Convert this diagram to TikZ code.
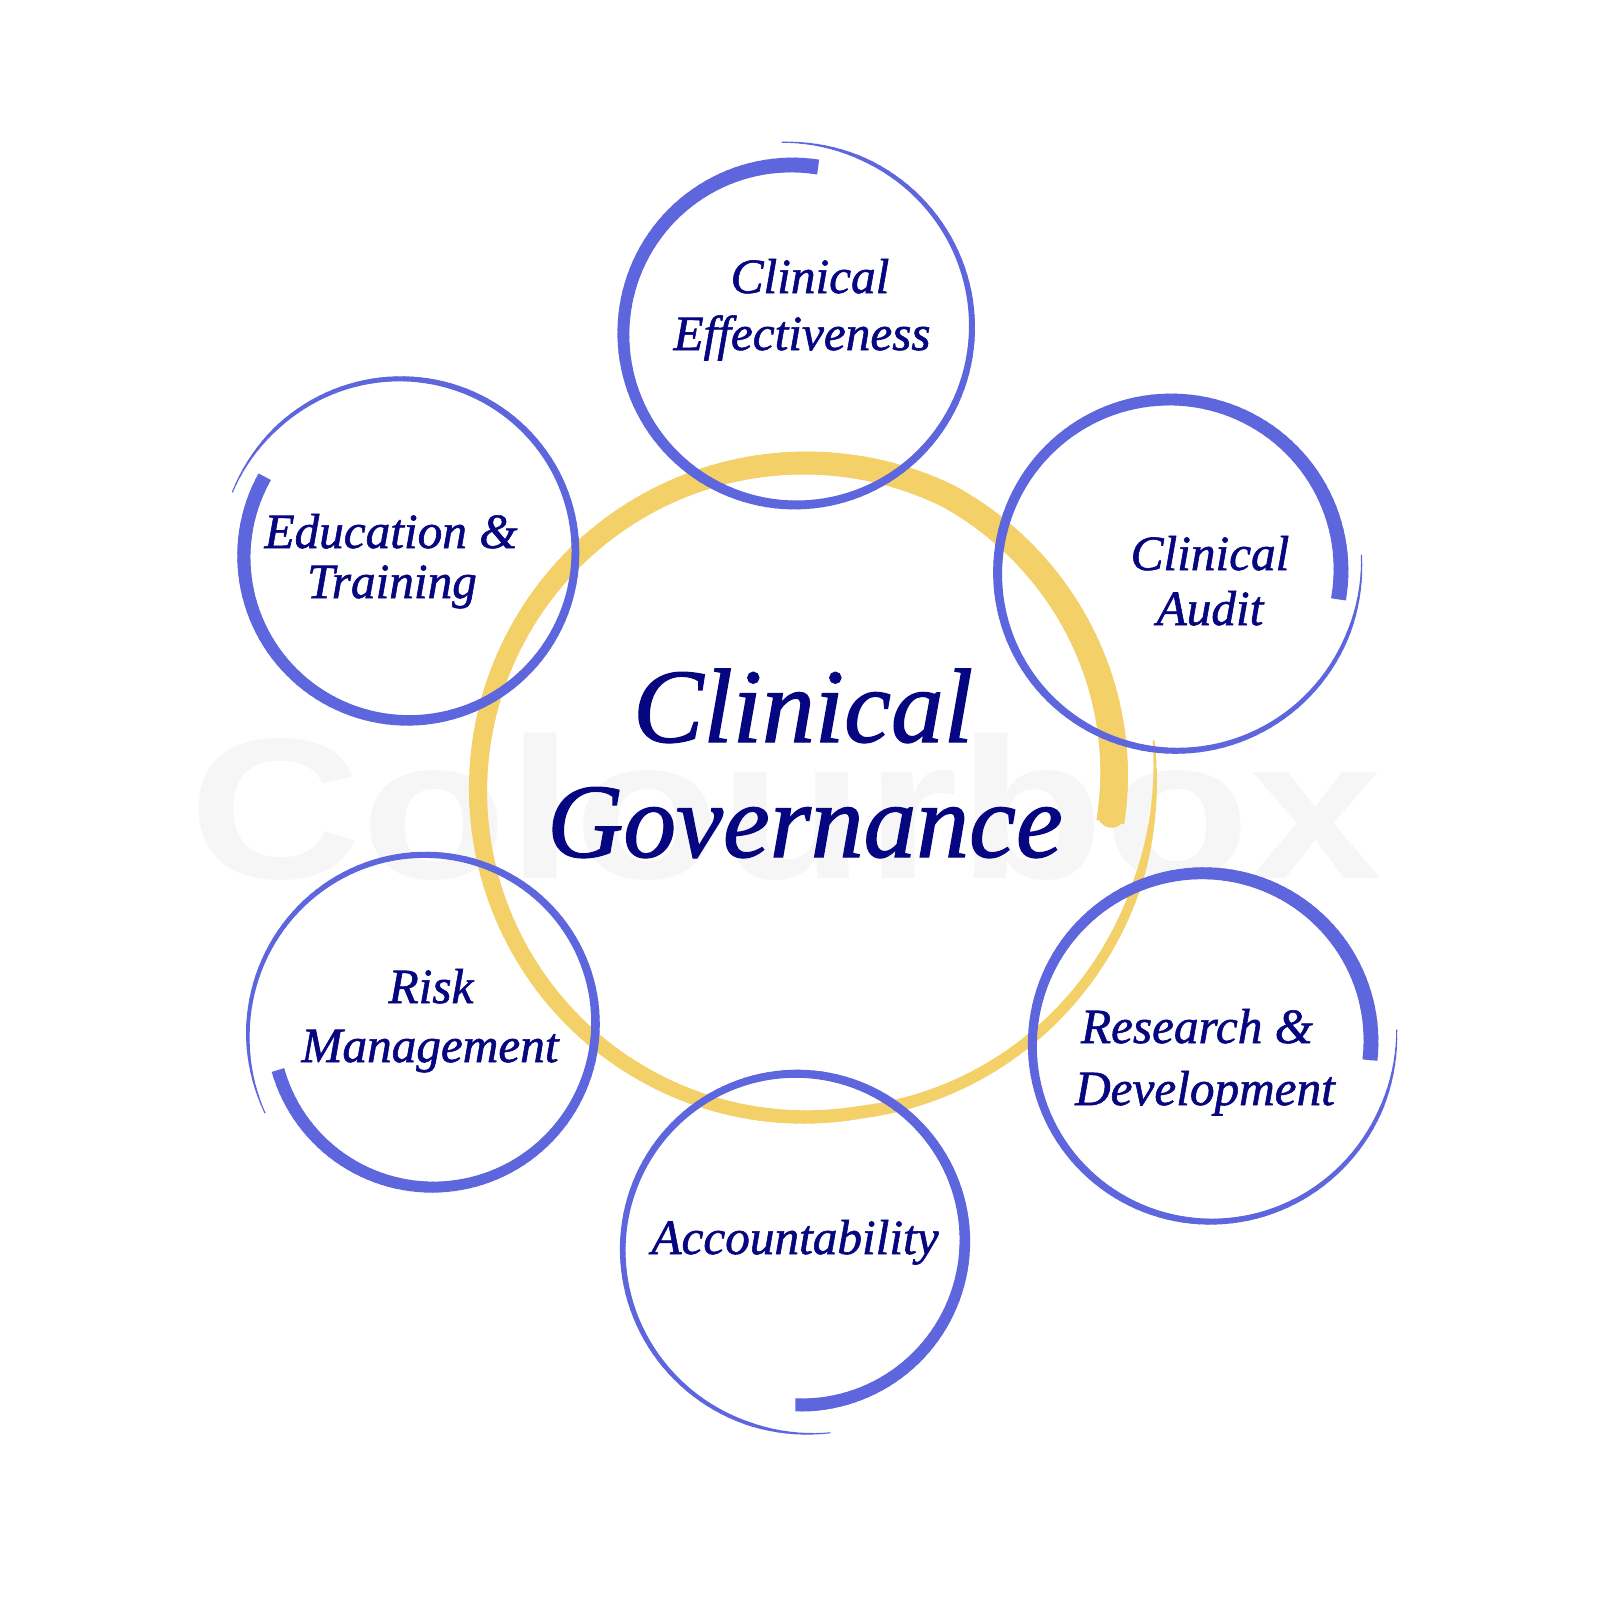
\documentclass[tikz,border=0pt]{standalone}
\usepackage{fontspec}
\setmainfont{Liberation Serif}
\newfontfamily\lblfont{Liberation Serif Italic}[FakeBold=1.2]
\newfontfamily\wmfont{Liberation Sans}
\definecolor{ringblue}{RGB}{94,102,222}
\definecolor{ringgold}{RGB}{243,209,104}
\definecolor{navytext}{RGB}{6,6,128}
\definecolor{wmgray}{RGB}{246,246,246}
% brush ring: cx cy a0 a1 r0 r1 w0 w1 (pixels, degrees)
\newcommand\brushring[8]{%
  \foreach \i in {0,...,143}{%
    \pgfmathsetmacro\sa{\i/144}%
    \pgfmathsetmacro\sb{(\i+1)/144}%
    \pgfmathsetmacro\aA{#3+(#4-#3)*\sa}%
    \pgfmathsetmacro\aB{#3+(#4-#3)*\sb}%
    \pgfmathsetmacro\rA{#5+(#6-#5)*\sa*\sa}%
    \pgfmathsetmacro\rB{#5+(#6-#5)*\sb*\sb}%
    \pgfmathsetmacro\wd{(#7+(#8-#7)*\sa)*min(1,(1-\sa)/0.1+0.3)*0.2845}%
    \ifnum\i=0
      \draw[ringblue,line width=\wd pt,line cap=butt]
        ({#1+\rA*cos(\aA)},{#2-\rA*sin(\aA)}) -- ({#1+\rB*cos(\aB)},{#2-\rB*sin(\aB)});
    \else
      \draw[ringblue,line width=\wd pt,line cap=round]
        ({#1+\rA*cos(\aA)},{#2-\rA*sin(\aA)}) -- ({#1+\rB*cos(\aB)},{#2-\rB*sin(\aB)});
    \fi
  }%
}
\tikzset{
  lbl/.style={navytext,font=\fontsize{14}{16}\selectfont\lblfont,anchor=base},
  ttl/.style={navytext,font=\fontsize{30}{34}\selectfont\lblfont,anchor=base},
  wmark/.style={wmgray,font=\wmfont\bfseries\fontsize{57}{60}\selectfont,anchor=base,xscale=1.19}
}
\begin{document}
\begin{tikzpicture}[x=0.01cm,y=-0.01cm]
  \fill[white] (0,0) rectangle (1600,1600);
  \useasboundingbox (0,0) rectangle (1600,1600);
  % watermark
  \node[wmark] (wm) at (786,878) {Colourbox};
  % central yellow ring
  \foreach \i in {0,...,239}{%
    \pgfmathsetmacro\sa{\i/240}%
    \pgfmathsetmacro\sb{(\i+1)/240}%
    \pgfmathsetmacro\aA{-6+374*\sa}%
    \pgfmathsetmacro\aB{-6+374*\sb}%
    \pgfmathsetmacro\rA{327-20*max(0,1-(\aA+6)/70)+25*max(0,(\aA-280)/88)}%
    \pgfmathsetmacro\rB{327-20*max(0,1-(\aB+6)/70)+25*max(0,(\aB-280)/88)}%
    \pgfmathsetmacro\wd{(28-20*\sa)*min(1,(1-\sa)/0.08+0.2)*0.2845}%
    \ifnum\i=0
      \draw[ringgold,line width=\wd pt,line cap=butt]
        ({805+\rA*cos(\aA)},{790-\rA*sin(\aA)}) -- ({805+\rB*cos(\aB)},{790-\rB*sin(\aB)});
    \else
      \draw[ringgold,line width=\wd pt,line cap=round]
        ({805+\rA*cos(\aA)},{790-\rA*sin(\aA)}) -- ({805+\rB*cos(\aB)},{790-\rB*sin(\aB)});
    \fi
  }
  % six blue rings
  \brushring{792}{332}{81}{453}{167}{190}{15}{3}
  \brushring{1172}{570}{-10}{364.5}{169}{190}{15}{3}
  \brushring{1205}{1041}{-6.6}{363.3}{166}{192}{15}{3}
  \brushring{801}{1243}{268}{638.7}{162}{192}{13}{3}
  \brushring{431}{1027}{195.7}{567.4}{159}{187}{13}{3}
  \brushring{406}{556}{150.7}{519.8}{162}{185}{14}{3}
  % labels
  \node[lbl] (ce1) at (810,293) {Clinical};
  \node[lbl] (ce2) at (802,350) {Effectiveness};
  \node[lbl] (ca1) at (1210,570) {Clinical};
  \node[lbl] (ca2) at (1210,625) {Audit};
  \node[lbl] (rd1) at (1197,1043) {Research \&};
  \node[lbl] (rd2) at (1205,1105) {Development};
  \node[lbl] (acc) at (795,1254) {Accountability};
  \node[lbl] (rm1) at (431,1003) {Risk};
  \node[lbl] (rm2) at (430,1062) {Management};
  \node[lbl] (et1) at (391,548) {Education \&};
  \node[lbl] (et2) at (392,598) {Training};
  \node[ttl] (cg1) at (803,742) {Clinical};
  \node[ttl] (cg2) at (805,857) {Governance};
\end{tikzpicture}
\end{document}
